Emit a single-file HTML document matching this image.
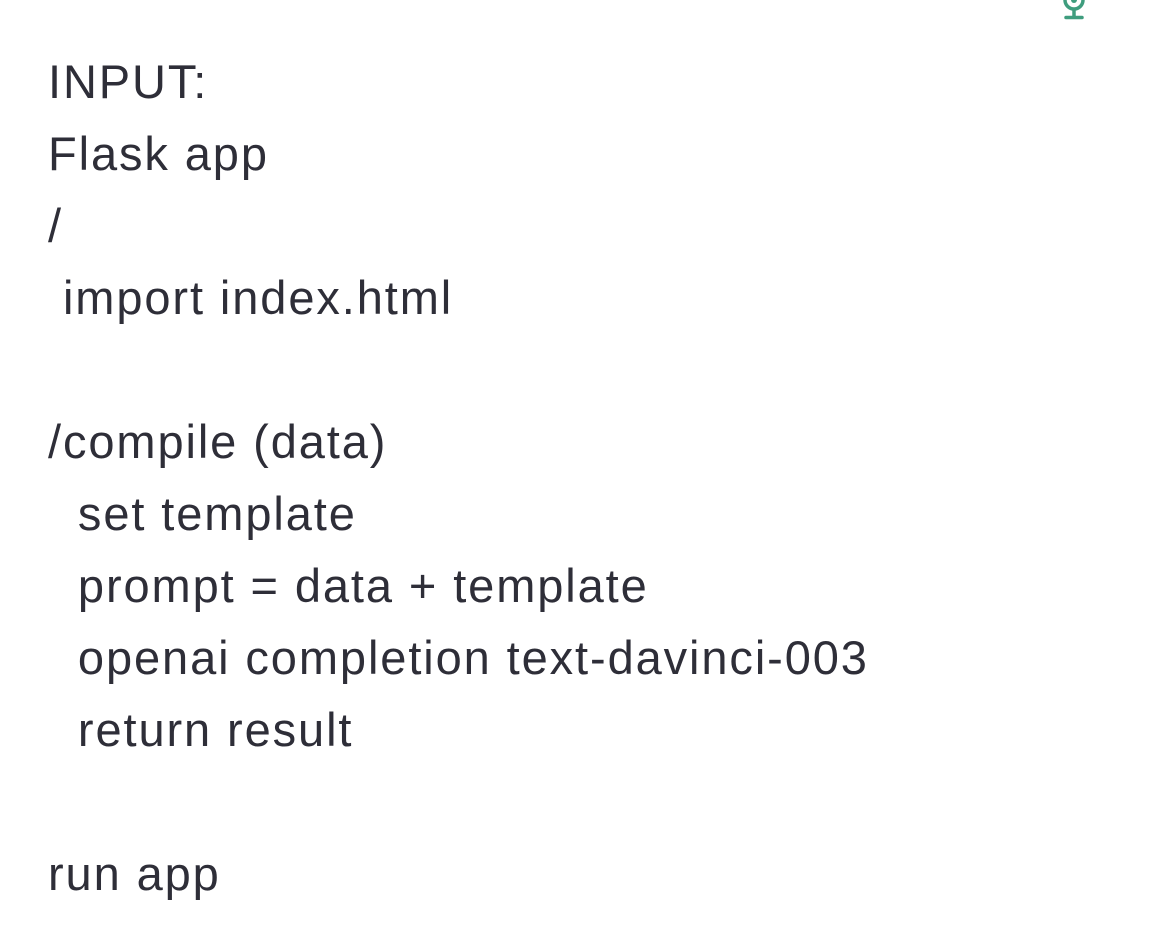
<!DOCTYPE html>
<html><head><style>
html,body{margin:0;padding:0;background:#fff;width:1170px;height:952px;overflow:hidden}
.t{position:absolute;left:48px;top:46px;font-family:"Liberation Sans",sans-serif;font-size:47px;line-height:72px;color:#2e2e38;white-space:pre;letter-spacing:1.9px}
</style></head><body>
<svg style="position:absolute;left:1060px;top:0" width="30" height="22">
<circle cx="14" cy="0" r="9" fill="none" stroke="#3f9d7e" stroke-width="3.5"/>
<circle cx="14" cy="0" r="3" fill="#3f9d7e"/>
<line x1="14" y1="9" x2="14" y2="17" stroke="#3f9d7e" stroke-width="3.5"/>
<line x1="6" y1="17.5" x2="22" y2="17.5" stroke="#3f9d7e" stroke-width="3.5" stroke-linecap="round"/>
</svg>
<div class="t">INPUT:
Flask app
/
 import index.html

/compile (data)
  set template
  prompt = data + template
  openai completion text-davinci-003
  return result

run app</div>
</body></html>
